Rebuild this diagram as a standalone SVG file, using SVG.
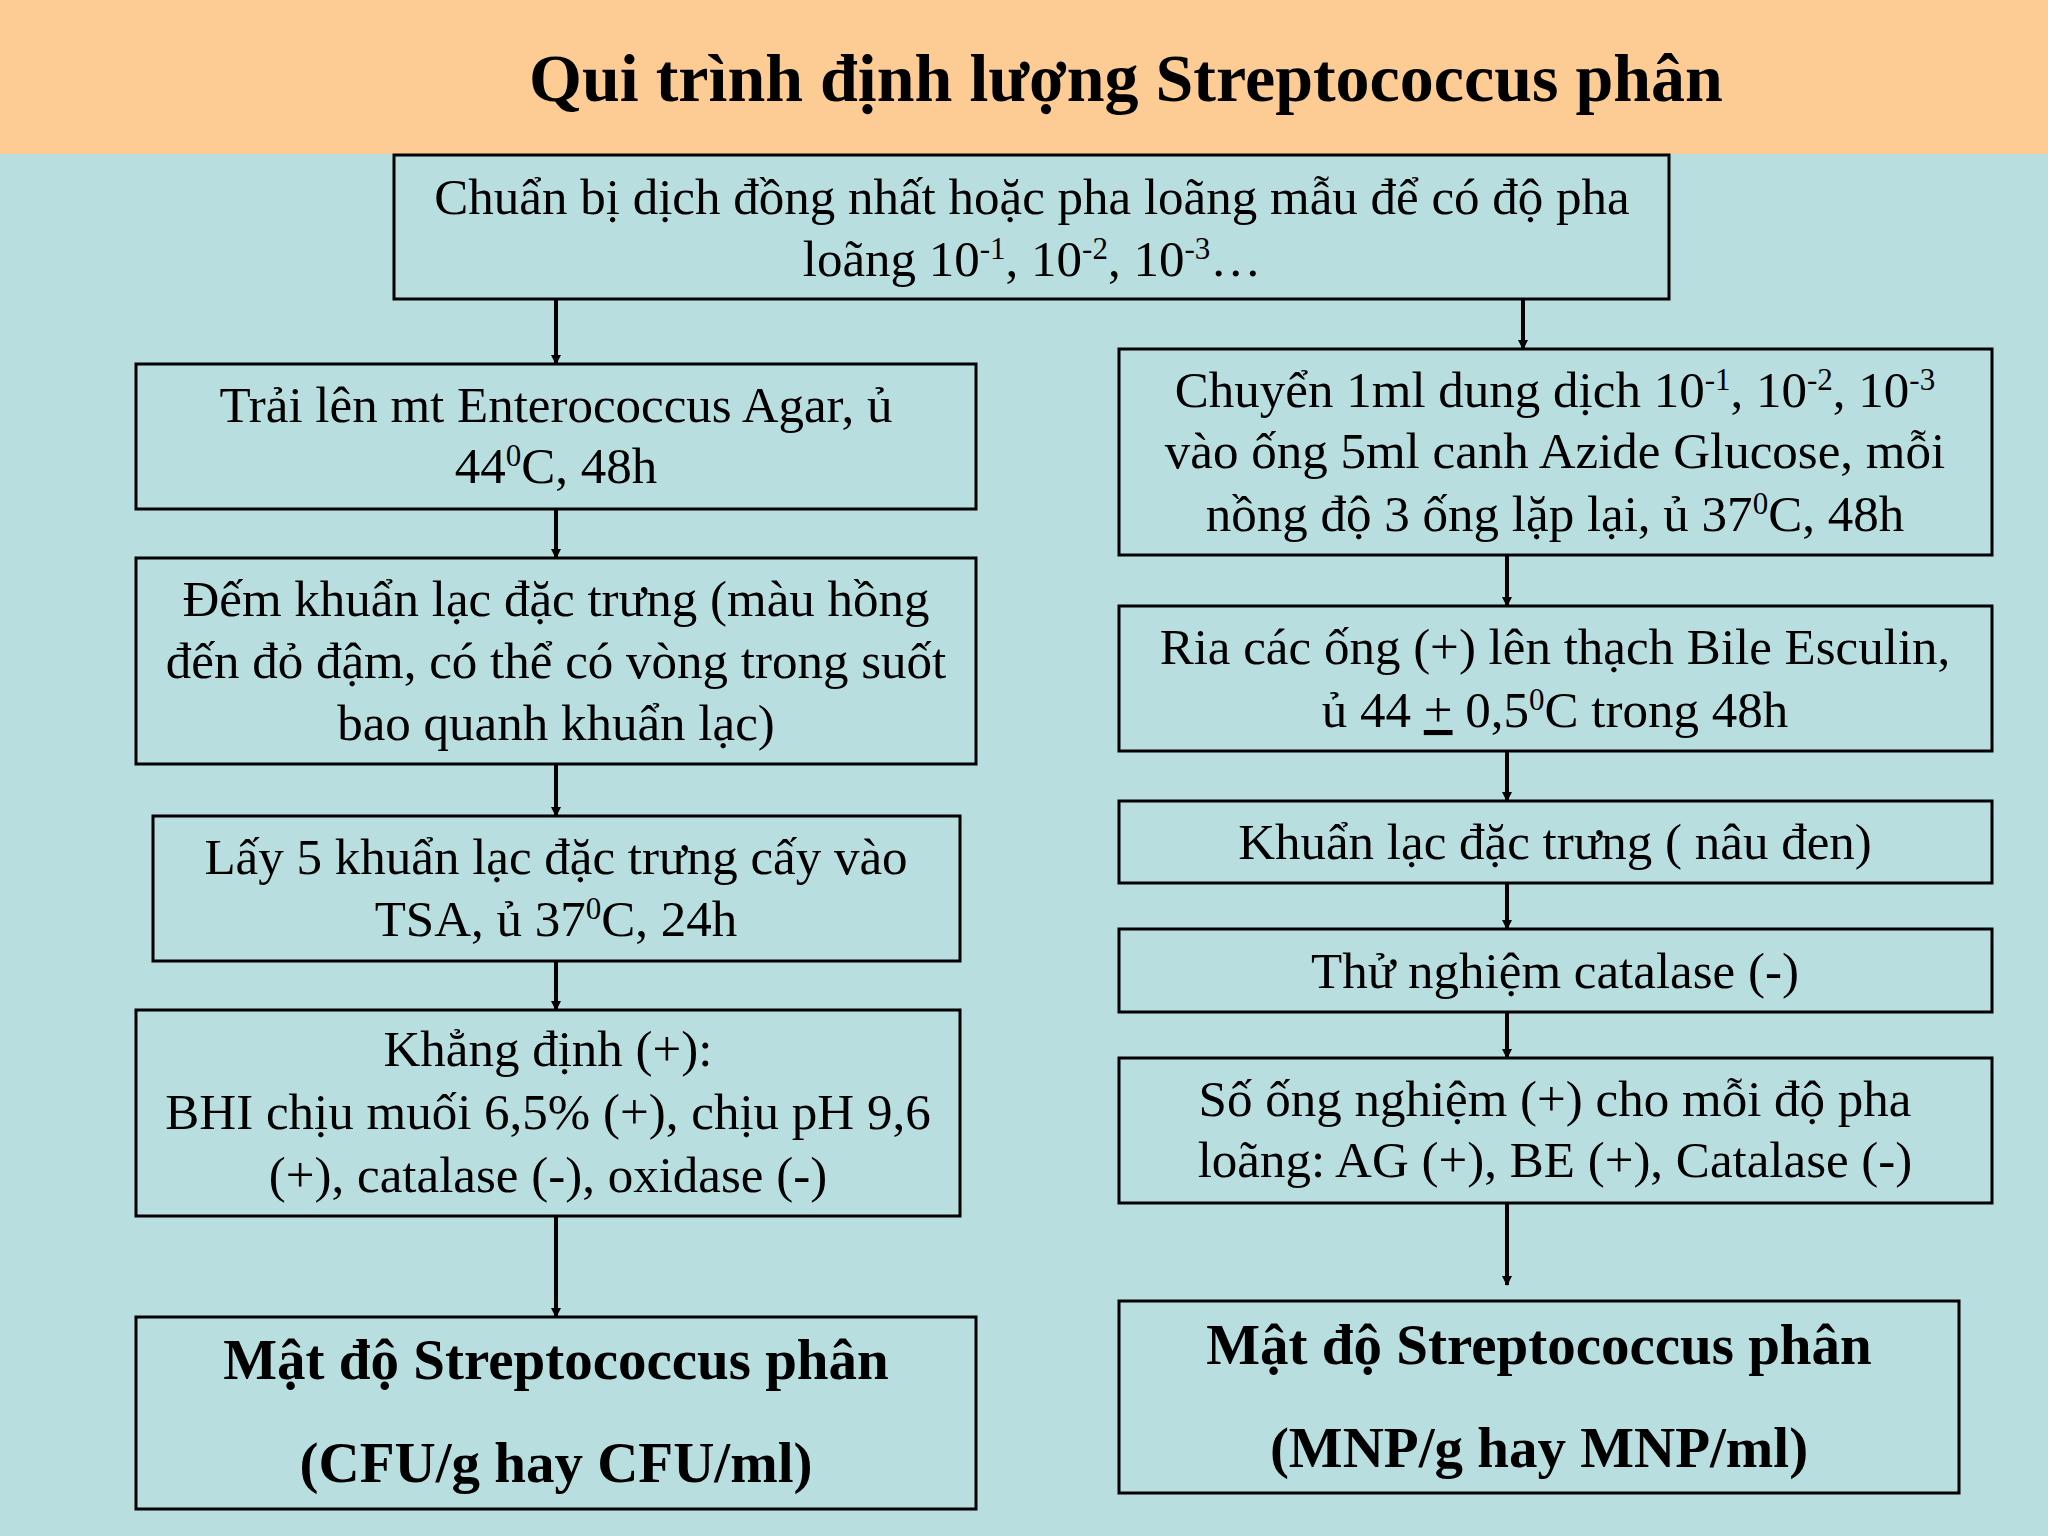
<svg xmlns="http://www.w3.org/2000/svg" width="2048" height="1536" viewBox="0 0 2048 1536">
<style>
.b{fill:none;stroke:#000;stroke-width:3}
.t{font-family:"Liberation Serif",serif;font-size:51px;text-anchor:middle;fill:#000}
.bt{font-family:"Liberation Serif",serif;font-size:57px;font-weight:bold;text-anchor:middle;fill:#000}
.s{font-size:31px}
.c{stroke:#000;stroke-width:4;fill:none;marker-end:url(#a)}
</style>
<defs><marker id="a" markerWidth="10" markerHeight="10" refX="9" refY="5" orient="auto" markerUnits="userSpaceOnUse"><path d="M0,0L10,5L0,10z" fill="#000"/></marker></defs>
<rect width="2048" height="1536" fill="#B9DEE0"/>
<rect width="2048" height="154" fill="#FDCB94"/>
<text x="1126" y="101" font-family="Liberation Serif,serif" font-size="68" font-weight="bold" text-anchor="middle">Qui trình định lượng Streptococcus phân</text>
<g id="top"><rect class="b" x="394" y="155" width="1275" height="144"/>
<text class="t" x="1032" y="214">Chuẩn bị dịch đồng nhất hoặc pha loãng mẫu để có độ pha</text>
<text class="t" x="1032" y="276">loãng 10<tspan class="s" baseline-shift="super">-1</tspan>, 10<tspan class="s" baseline-shift="super">-2</tspan>, 10<tspan class="s" baseline-shift="super">-3</tspan>…</text></g>
<g id="l1"><rect class="b" x="136" y="364" width="840" height="145"/>
<text class="t" x="556" y="422">Trải lên mt Enterococcus Agar, ủ</text>
<text class="t" x="556" y="483">44<tspan class="s" baseline-shift="super">0</tspan>C, 48h</text></g>
<g id="l2"><rect class="b" x="136" y="558" width="840" height="206"/>
<text class="t" x="556" y="616">Đếm khuẩn lạc đặc trưng (màu hồng</text>
<text class="t" x="556" y="678">đến đỏ đậm, có thể có vòng trong suốt</text>
<text class="t" x="556" y="740">bao quanh khuẩn lạc)</text></g>
<g id="l3"><rect class="b" x="153" y="816" width="807" height="145"/>
<text class="t" x="556" y="874">Lấy 5 khuẩn lạc đặc trưng cấy vào</text>
<text class="t" x="556" y="936">TSA, ủ 37<tspan class="s" baseline-shift="super">0</tspan>C, 24h</text></g>
<g id="l4"><rect class="b" x="136" y="1010" width="824" height="206"/>
<text class="t" x="548" y="1066">Khẳng định (+):</text>
<text class="t" x="548" y="1129">BHI chịu muối 6,5% (+), chịu pH 9,6</text>
<text class="t" x="548" y="1192">(+), catalase (-), oxidase (-)</text></g>
<g id="l5"><rect class="b" x="136" y="1317" width="840" height="192"/>
<text class="bt" x="556" y="1379">Mật độ Streptococcus phân</text>
<text class="bt" x="556" y="1482">(CFU/g hay CFU/ml)</text></g>
<g id="r1"><rect class="b" x="1119" y="349" width="873" height="206"/>
<text class="t" x="1555" y="407">Chuyển 1ml dung dịch 10<tspan class="s" baseline-shift="super">-1</tspan>, 10<tspan class="s" baseline-shift="super">-2</tspan>, 10<tspan class="s" baseline-shift="super">-3</tspan></text>
<text class="t" x="1555" y="468">vào ống 5ml canh Azide Glucose, mỗi</text>
<text class="t" x="1555" y="531">nồng độ 3 ống lặp lại, ủ 37<tspan class="s" baseline-shift="super">0</tspan>C, 48h</text></g>
<g id="r2"><rect class="b" x="1119" y="606" width="873" height="145"/>
<text class="t" x="1555" y="664">Ria các ống (+) lên thạch Bile Esculin,</text>
<text class="t" x="1555" y="727">ủ 44 <tspan text-decoration="underline">+</tspan> 0,5<tspan class="s" baseline-shift="super">0</tspan>C trong 48h</text></g>
<g id="r3"><rect class="b" x="1119" y="801" width="873" height="82"/>
<text class="t" x="1555" y="859">Khuẩn lạc đặc trưng ( nâu đen)</text></g>
<g id="r4"><rect class="b" x="1119" y="929" width="873" height="83"/>
<text class="t" x="1555" y="988">Thử nghiệm catalase (-)</text></g>
<g id="r5"><rect class="b" x="1119" y="1058" width="873" height="145"/>
<text class="t" x="1555" y="1116">Số ống nghiệm (+) cho mỗi độ pha</text>
<text class="t" x="1555" y="1177">loãng: AG (+), BE (+), Catalase (-)</text></g>
<g id="r6"><rect class="b" x="1119" y="1301" width="840" height="192"/>
<text class="bt" x="1539" y="1364">Mật độ Streptococcus phân</text>
<text class="bt" x="1539" y="1467">(MNP/g hay MNP/ml)</text></g>
<g id="connectors">
<line class="c" x1="556" y1="299" x2="556" y2="364"/>
<line class="c" x1="556" y1="509" x2="556" y2="558"/>
<line class="c" x1="556" y1="764" x2="556" y2="816"/>
<line class="c" x1="556" y1="961" x2="556" y2="1010"/>
<line class="c" x1="556" y1="1216" x2="556" y2="1317"/>
<line class="c" x1="1523" y1="299" x2="1523" y2="349"/>
<line class="c" x1="1507" y1="555" x2="1507" y2="606"/>
<line class="c" x1="1507" y1="751" x2="1507" y2="801"/>
<line class="c" x1="1507" y1="883" x2="1507" y2="929"/>
<line class="c" x1="1507" y1="1012" x2="1507" y2="1058"/>
<line class="c" x1="1507" y1="1203" x2="1507" y2="1285"/>
</g>
</svg>
